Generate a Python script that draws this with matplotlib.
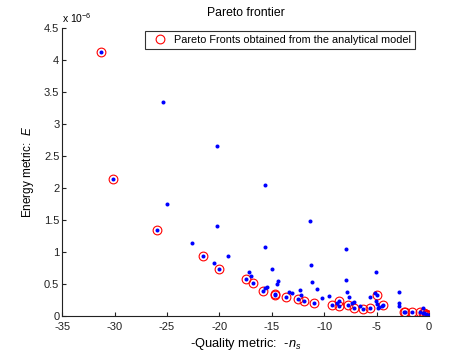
import matplotlib
matplotlib.use("Agg")
import matplotlib.pyplot as plt
from matplotlib.ticker import FuncFormatter

plt.rcParams['font.family'] = ['Liberation Sans', 'DejaVu Sans']
plt.rcParams['mathtext.fontset'] = 'custom'
plt.rcParams['mathtext.it'] = 'Liberation Sans:italic'
plt.rcParams['mathtext.rm'] = 'Liberation Sans'

# All evaluated design points (energy in units of 1e-6)
all_quality = [-31.33, -30.15, -25.96, -21.6, -20.05, -17.48, -16.76, -15.86, -14.73, -14.65,
               -13.68, -12.5, -11.93, -11.0, -9.23, -8.62, -8.6, -7.77, -7.15, -6.3,
               -5.62, -4.92, -4.4, -2.4, -2.3, -1.58, -0.9, -0.6, -0.45, -0.3, -0.2, -0.1,
               -25.4, -20.18, -15.66, -24.95, -11.37, -20.18, -22.6, -15.66, -7.92, -19.13,
               -20.5, -11.3, -14.94, -17.19, -5.08, -17.0, -14.37, -14.46, -11.13, -7.9,
               -15.47, -15.63, -12.28, -10.71, -13.4, -13.06, -7.85, -2.86, -5.12, -12.24,
               -9.5, -10.17, -7.6, -5.66, -7.15, -7.3, -2.86, -2.83, -6.58, -5.02,
               -4.93, -4.73, -4.89, -4.51, -0.54, -8.75]
all_energy = [4.12, 2.14, 1.34, 0.94, 0.74, 0.58, 0.51, 0.395, 0.34, 0.335,
              0.30, 0.265, 0.235, 0.205, 0.178, 0.235, 0.153, 0.178, 0.125, 0.115,
              0.13, 0.33, 0.17, 0.065, 0.06, 0.065, 0.06, 0.05, 0.04, 0.03, 0.02, 0.02,
              3.34, 2.66, 2.05, 1.745, 1.49, 1.40, 1.14, 1.08, 1.05, 0.93,
              0.83, 0.80, 0.73, 0.68, 0.68, 0.62, 0.54, 0.50, 0.53, 0.56,
              0.46, 0.44, 0.41, 0.415, 0.37, 0.36, 0.375, 0.37, 0.355, 0.32,
              0.305, 0.28, 0.29, 0.29, 0.22, 0.20, 0.20, 0.15, 0.156, 0.23,
              0.18, 0.145, 0.13, 0.16, 0.12, 0.20]

# Pareto fronts obtained from the analytical model
pareto_quality = [-31.33, -30.15, -25.96, -21.6, -20.05, -17.48, -16.76, -15.86, -14.73, -14.65,
                  -13.68, -12.5, -11.93, -11.0, -9.23, -8.62, -8.6, -7.77, -7.15, -6.3,
                  -5.62, -4.92, -4.4, -2.4, -2.3, -1.58, -0.9, -0.6, -0.45, -0.3, -0.2, -0.1]
pareto_energy = [4.12, 2.14, 1.34, 0.94, 0.74, 0.58, 0.51, 0.395, 0.34, 0.335,
                 0.30, 0.265, 0.235, 0.205, 0.178, 0.235, 0.153, 0.178, 0.125, 0.115,
                 0.13, 0.33, 0.17, 0.065, 0.06, 0.065, 0.06, 0.05, 0.04, 0.03, 0.02, 0.02]

x_ticks = [-35, -30, -25, -20, -15, -10, -5, 0]
y_ticks = [0, 0.5, 1, 1.5, 2, 2.5, 3, 3.5, 4, 4.5]

fig = plt.figure(figsize=(4.74, 3.55), dpi=100)
ax = fig.add_axes([0.131, 0.110, 0.774, 0.811])

ax.plot(pareto_quality, pareto_energy, linestyle='none', marker='o', markersize=6.3,
        markerfacecolor='none', markeredgecolor='red', markeredgewidth=0.8,
        label='Pareto Fronts obtained from the analytical model')
ax.plot(all_quality, all_energy, linestyle='none', marker='o', markersize=2.9,
        color='blue', markeredgewidth=0)

ax.set_xlim(-35, 0)
ax.set_ylim(0, 4.5)
ax.set_xticks(x_ticks)
ax.set_yticks(y_ticks)
ax.yaxis.set_major_formatter(FuncFormatter(lambda v, p: '%g' % v))
ax.xaxis.set_major_formatter(FuncFormatter(lambda v, p: '%g' % v))
ax.tick_params(direction='in', length=3, width=0.8, labelsize=8, colors='#222222')
ax.tick_params(axis='x', pad=4)
ax.tick_params(axis='y', pad=2)
for s in ['top', 'right']:
    ax.spines[s].set_visible(False)
for s in ['left', 'bottom']:
    ax.spines[s].set_linewidth(0.8)
    ax.spines[s].set_color('#222222')

ax.set_title('Pareto frontier', fontsize=8.8, pad=9)
ax.set_xlabel('-Quality metric:  -$n_s$', fontsize=9.3, labelpad=3)
ax.set_ylabel('Energy metric:  $E$', fontsize=8.5, labelpad=6)
ax.text(0.0, 1.012, 'x 10$^{-6}$', transform=ax.transAxes, fontsize=7.5, ha='left', va='bottom')

leg = ax.legend(loc='upper right', fontsize=7.8, frameon=True, fancybox=False,
                borderaxespad=0.3, handletextpad=0.3, handlelength=2.0,
                borderpad=0.35, bbox_to_anchor=(0.97, 1.0))
leg.get_frame().set_edgecolor('black')
leg.get_frame().set_linewidth(0.8)

fig.savefig('out.png', dpi=100)
